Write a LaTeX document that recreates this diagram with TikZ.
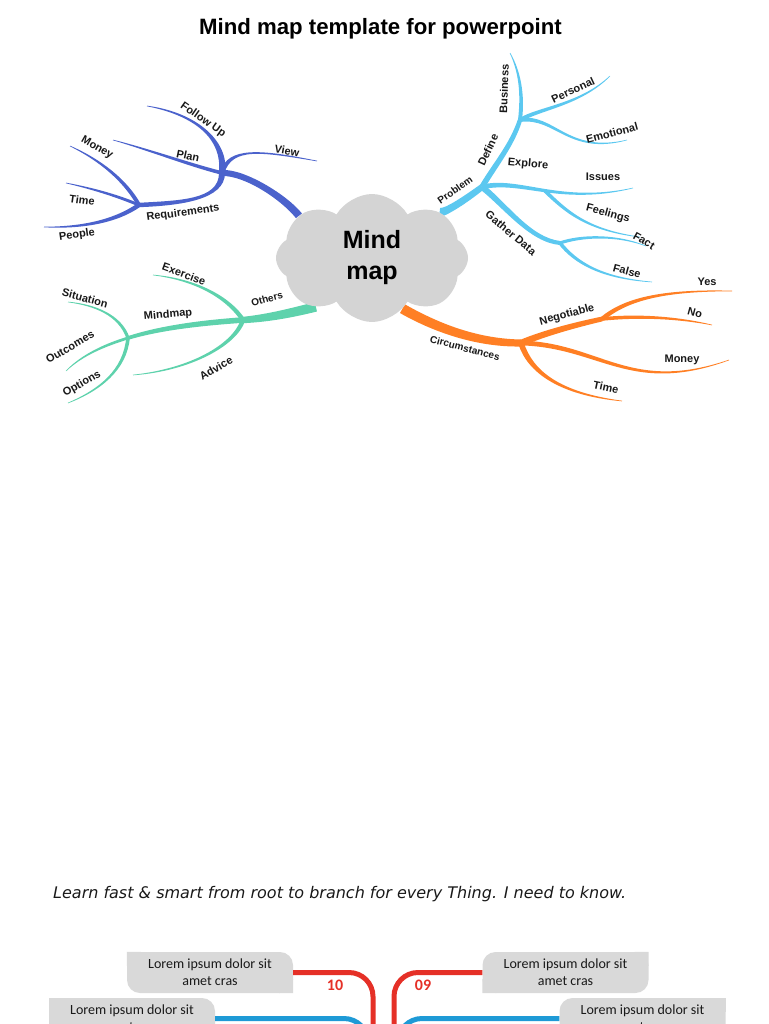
\documentclass[tikz,border=0pt]{standalone}
\usepackage{fontspec}
\setmainfont{Liberation Sans}
\newfontfamily\loremfont{Carlito}
\newfontfamily\notefont{DejaVu Sans}
\usepackage{tikz}
\usetikzlibrary{calc,backgrounds,shapes.symbols}

\definecolor{mmBlue}{RGB}{75,98,204}
\definecolor{mmSky}{RGB}{92,200,240}
\definecolor{mmMint}{RGB}{94,210,172}
\definecolor{mmOrange}{RGB}{255,127,36}
\definecolor{cloudgray}{RGB}{212,212,212}
\definecolor{boxgray}{RGB}{217,217,217}
\definecolor{wireRed}{RGB}{229,48,39}
\definecolor{wireBlue}{RGB}{30,154,214}
\definecolor{ink}{RGB}{25,25,25}

% tapered branch: colour, from, control 1, control 2, to, half width at start, half width at end
\newcommand\limb[7]{%
  \fill[#1] ($(#2)!#6pt!90:(#3)$) .. controls ($(#3)!#6pt!-90:(#2)$) and ($(#4)!#6*0.5pt+#7*0.5pt!90:(#5)$) .. ($(#5)!#7pt!-90:(#4)$)
    -- ($(#5)!#7pt!90:(#4)$) .. controls ($(#4)!#6*0.5pt+#7*0.5pt!-90:(#5)$) and ($(#3)!#6pt!90:(#2)$) .. ($(#2)!#6pt!-90:(#3)$) -- cycle;}

\begin{document}
\begin{tikzpicture}[x=1pt,y=-1pt,
  lbl/.style={font=\fontsize{11}{13}\selectfont\bfseries,text=ink,inner sep=0pt},
  sml/.style={lbl,font=\fontsize{10}{12}\selectfont\bfseries},
  lorem/.style={fill=boxgray,rounded corners=13pt,minimum width=166pt,minimum height=41pt,
                inner sep=0pt,align=center,text=ink,font=\loremfont\fontsize{14}{17}\selectfont},
  num/.style={text=wireRed,font=\loremfont\bfseries\fontsize{16}{18}\selectfont},
  redwire/.style={draw=wireRed,line width=5pt,rounded corners=24pt},
  bluewire/.style={draw=wireBlue,line width=5pt,rounded corners=24pt}
]
  \useasboundingbox (0,0) rectangle (768,1024);
  \clip (0,0) rectangle (768,1024);

  \node[font=\fontsize{22.2}{26}\selectfont\bfseries] (title) at (380.5,29) {Mind map template for powerpoint};

  \node[cloud,cloud puffs=8,cloud puff arc=120,cloud ignores aspect,fill=cloudgray,
        minimum width=192pt,minimum height=128pt,inner sep=0pt,align=center,
        font=\fontsize{25}{31}\selectfont\bfseries] (core) at (372,258) {Mind\\map};

  \foreach \n/\p in {bHub/{222,173},bReq/{139,205},bView/{317,161},bFollow/{147,106},bPlan/{113,140},
                     bPeople/{44,227},bMoney/{70,146},bTime/{66,183},
                     sHub/{482,187},sDef/{520,120},sBus/{510,53},sPers/{610,76},sEmo/{627,140},
                     sExp/{545,191},sIss/{633,188},sFeel/{640,237},sGat/{560,243},sFact/{646,246},sFalse/{652,282},
                     gHub/{243,320},gMind/{128,338},gEx/{153,275},gAdv/{133,375},gSit/{68,302},gOut/{66,371},gOpt/{68,403},
                     oHub/{521,343},oNeg/{602,319},oYes/{732,291},oNo/{712,325},oMoney/{729,360},oTime/{622,401}}
    \coordinate (\n) at (\p);

  \begin{scope}[on background layer]
    \limb{mmBlue}{core.150}{285,198}{245,172}{bHub}{3.8}{3}
    \limb{mmBlue}{bHub}{230,146}{262,151}{bView}{2.2}{0.3}
    \limb{mmBlue}{bHub}{226,140}{196,114}{bFollow}{3.2}{0.3}
    \limb{mmBlue}{bHub}{190,165}{150,150}{bPlan}{1.8}{0.3}
    \limb{mmBlue}{bHub}{222,200}{180,203}{bReq}{3}{2.2}
    \limb{mmBlue}{bReq}{115,222}{80,228}{bPeople}{2.2}{0.3}
    \limb{mmBlue}{bReq}{125,180}{100,160}{bMoney}{2}{0.3}
    \limb{mmBlue}{bReq}{115,195}{90,188}{bTime}{1.5}{0.3}

    \limb{mmSky}{core.34}{445,213}{465,200}{sHub}{4.5}{3}
    \limb{mmSky}{sHub}{495,165}{512,145}{sDef}{2.8}{2.2}
    \limb{mmSky}{sDef}{523,95}{520,72}{sBus}{2}{0.3}
    \limb{mmSky}{sDef}{540,108}{580,105}{sPers}{2}{0.3}
    \limb{mmSky}{sDef}{555,115}{568,155}{sEmo}{2}{0.3}
    \limb{mmSky}{sHub}{520,178}{560,205}{sIss}{2.4}{0.3}
    \limb{mmSky}{sExp}{565,210}{585,230}{sFeel}{1.8}{0.3}
    \limb{mmSky}{sHub}{505,205}{530,240}{sGat}{3}{2}
    \limb{mmSky}{sGat}{580,236}{615,234}{sFact}{1.6}{0.3}
    \limb{mmSky}{sGat}{575,262}{600,278}{sFalse}{1.8}{0.3}

    \limb{mmMint}{core.221}{295,312}{270,318}{gHub}{4.8}{3.2}
    \limb{mmMint}{gHub}{230,300}{200,280}{gEx}{2.2}{0.3}
    \limb{mmMint}{gHub}{235,345}{190,370}{gAdv}{2.2}{0.3}
    \limb{mmMint}{gHub}{200,323}{160,328}{gMind}{2.8}{1.8}
    \limb{mmMint}{gMind}{120,315}{95,305}{gSit}{1.6}{0.3}
    \limb{mmMint}{gMind}{105,345}{82,355}{gOut}{1.4}{0.3}
    \limb{mmMint}{gMind}{125,370}{100,390}{gOpt}{1.8}{0.3}

    \limb{mmOrange}{core.301}{440,330}{480,343}{oHub}{5}{3.5}
    \limb{mmOrange}{oHub}{545,333}{575,325}{oNeg}{3.2}{2.4}
    \limb{mmOrange}{oNeg}{625,300}{660,290}{oYes}{2.2}{0.3}
    \limb{mmOrange}{oNeg}{640,315}{680,318}{oNo}{1.8}{0.3}
    \limb{mmOrange}{oHub}{600,345}{630,395}{oMoney}{2.4}{0.3}
    \limb{mmOrange}{oHub}{530,372}{560,394}{oTime}{2.8}{0.3}
  \end{scope}

  \node[lbl,rotate=-35] (lFollow) at (203,120) {Follow Up};
  \node[lbl,rotate=-10] (lView) at (287,151) {View};
  \node[lbl,rotate=-12] (lPlan) at (188,156) {Plan};
  \node[lbl,rotate=-30] (lMoneyB) at (97,148) {Money};
  \node[lbl,rotate=-8] (lTimeB) at (82,200) {Time};
  \node[lbl,rotate=8] (lReq) at (183,213) {Requirements};
  \node[lbl,rotate=8] (lPeople) at (77,235) {People};

  \node[sml,rotate=35] (lProblem) at (455,190) {Problem};
  \node[lbl,rotate=65] (lDefine) at (488,150) {Define};
  \node[lbl,rotate=88] (lBusiness) at (504,89) {Business};
  \node[lbl,rotate=25] (lPersonal) at (573,90) {Personal};
  \node[lbl,rotate=15] (lEmotional) at (612,133) {Emotional};
  \node[lbl,rotate=-5] (lExplore) at (528,164) {Explore};
  \node[lbl] (lIssues) at (603,177) {Issues};
  \node[lbl,rotate=-15] (lFeelings) at (608,214) {Feelings};
  \node[lbl,rotate=-30] (lFact) at (644,241) {Fact};
  \node[lbl,rotate=-40] (lGather) at (511,233) {Gather Data};
  \node[lbl,rotate=-15] (lFalse) at (627,271) {False};

  \node[lbl,rotate=-20] (lExercise) at (184,274) {Exercise};
  \node[sml,rotate=15] (lOthers) at (267,299) {Others};
  \node[lbl,rotate=5] (lMindmap) at (168,315) {Mindmap};
  \node[lbl,rotate=-15] (lSituation) at (85,298) {Situation};
  \node[lbl,rotate=30] (lOutcomes) at (70,347) {Outcomes};
  \node[lbl,rotate=30] (lOptions) at (82,384) {Options};
  \node[lbl,rotate=30] (lAdvice) at (216,368) {Advice};

  \node[sml,rotate=-15] (lCirc) at (465,348) {Circumstances};
  \node[lbl,rotate=15] (lNeg) at (567,315) {Negotiable};
  \node[lbl] (lYes) at (707,282) {Yes};
  \node[lbl,rotate=-15] (lNo) at (695,313) {No};
  \node[lbl] (lMoneyO) at (682,360) {Money};
  \node[lbl,rotate=-12] (lTimeO) at (606,387) {Time};

  \node[anchor=west,inner sep=0pt,text=ink,font=\notefont\itshape\fontsize{16}{19}\selectfont] (tagline) at (53,894)
    {Learn fast \& smart from root to branch for every Thing. I need to know.};

  \node[lorem] (b10) at (210,972.5) {Lorem ipsum dolor sit\\amet cras};
  \node[lorem] (b09) at (565.5,972.5) {Lorem ipsum dolor sit\\amet cras};
  \node[lorem] (b08) at (132,1018.5) {Lorem ipsum dolor sit\\amet cras};
  \node[lorem] (b07) at (642.5,1018.5) {Lorem ipsum dolor sit\\amet cras};
  \fill[boxgray] (b10.north west) rectangle ++(14,14) (b10.south east) rectangle ++(-14,-14);
  \fill[boxgray] (b09.north east) rectangle ++(-14,14) (b09.south west) rectangle ++(14,-14);
  \fill[boxgray] (b08.north west) rectangle ++(14,14);
  \fill[boxgray] (b07.north east) rectangle ++(-14,14);

  \coordinate (r10) at (373,1045);
  \coordinate (r09) at (394,1045);
  \coordinate (r08) at (368,1070);
  \coordinate (r07) at (398,1070);
  \draw[bluewire] (b08.east) -| (r08);
  \draw[bluewire] (b07.west) -| (r07);
  \draw[redwire] (b10.east) -| (r10);
  \draw[redwire] (b09.west) -| (r09);
  \node[num] (n10) at (335,985) {10};
  \node[num] (n09) at (423,985) {09};
\end{tikzpicture}
\end{document}
